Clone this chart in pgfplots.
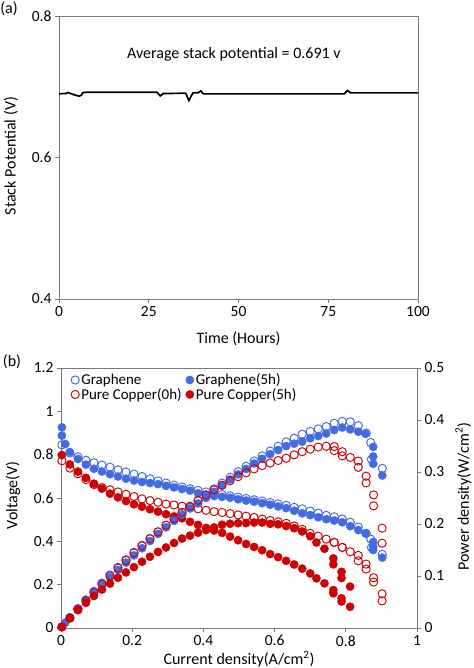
\documentclass[border=0pt]{standalone}
\usepackage{fontspec}
\setmainfont{Carlito}
\usepackage{pgfplots}
\usepackage{pgfplotstable}
\pgfplotsset{compat=1.18}
\definecolor{myblue}{RGB}{66,106,226}
\definecolor{myred}{RGB}{206,0,0}
\definecolor{axgray}{RGB}{120,120,120}

\pgfplotstableread{
x V P
0.0025 0.845 0.0021
0.025 0.808 0.0202
0.0475 0.790 0.0375
0.07 0.774 0.0542
0.0925 0.763 0.0706
0.115 0.752 0.0865
0.1375 0.742 0.1020
0.16 0.730 0.1168
0.1825 0.720 0.1314
0.205 0.710 0.1456
0.2275 0.699 0.1590
0.25 0.689 0.1723
0.2725 0.679 0.1850
0.295 0.669 0.1974
0.3175 0.659 0.2092
0.34 0.651 0.2213
0.3625 0.643 0.2331
0.385 0.635 0.2445
0.4075 0.628 0.2559
0.43 0.622 0.2675
0.4525 0.616 0.2787
0.475 0.610 0.2898
0.4975 0.604 0.3005
0.52 0.598 0.3110
0.5425 0.592 0.3212
0.565 0.586 0.3311
0.5875 0.579 0.3402
0.61 0.573 0.3495
0.6325 0.566 0.3580
0.655 0.557 0.3648
0.6775 0.550 0.3726
0.70 0.540 0.3780
0.7225 0.530 0.3829
0.745 0.520 0.3874
0.7675 0.513 0.3937
0.79 0.503 0.3974
0.8125 0.488 0.3965
0.835 0.466 0.3891
0.8575 0.437 0.3747
0.87 0.410 0.3567
0.872 0.372 0.3244
0.9025 0.340 0.3069
}\gzero

\pgfplotstableread{
x V P
0.0025 0.926 0.0023
0.0025 0.888 0.0022
0.012 0.849 0.0102
0.025 0.812 0.0203
0.0475 0.780 0.0371
0.07 0.754 0.0528
0.0925 0.735 0.0680
0.115 0.722 0.0830
0.1375 0.710 0.0976
0.16 0.699 0.1118
0.1825 0.689 0.1257
0.205 0.681 0.1396
0.2275 0.674 0.1533
0.25 0.669 0.1673
0.2725 0.664 0.1809
0.295 0.656 0.1935
0.3175 0.649 0.2061
0.34 0.641 0.2179
0.3625 0.634 0.2298
0.385 0.622 0.2395
0.4075 0.614 0.2502
0.43 0.609 0.2619
0.4525 0.605 0.2738
0.475 0.601 0.2855
0.4975 0.594 0.2955
0.52 0.588 0.3058
0.5425 0.583 0.3163
0.565 0.576 0.3254
0.5875 0.569 0.3343
0.61 0.561 0.3422
0.6325 0.553 0.3498
0.655 0.541 0.3544
0.6775 0.529 0.3584
0.70 0.521 0.3647
0.7225 0.511 0.3692
0.745 0.502 0.3740
0.7675 0.496 0.3807
0.79 0.488 0.3855
0.8125 0.470 0.3819
0.835 0.452 0.3774
0.855 0.437 0.3736
0.877 0.397 0.3482
0.877 0.376 0.3298
0.877 0.360 0.3157
0.9025 0.325 0.2933
}\gfive

\pgfplotstableread{
x V P
0.0025 0.772 0.0020
0.025 0.738 0.0190
0.0475 0.712 0.0356
0.07 0.685 0.0522
0.0925 0.662 0.0685
0.115 0.648 0.0845
0.1375 0.638 0.1001
0.16 0.628 0.1152
0.1825 0.617 0.1299
0.205 0.607 0.1441
0.2275 0.596 0.1581
0.25 0.588 0.1715
0.2725 0.580 0.1848
0.295 0.572 0.1977
0.3175 0.568 0.2102
0.34 0.562 0.2224
0.3625 0.557 0.2342
0.385 0.550 0.2456
0.4075 0.543 0.2559
0.43 0.537 0.2657
0.4525 0.533 0.2747
0.475 0.528 0.2831
0.4975 0.522 0.2910
0.52 0.516 0.2985
0.5425 0.510 0.3060
0.565 0.503 0.3124
0.5875 0.496 0.3172
0.61 0.490 0.3221
0.6325 0.483 0.3264
0.655 0.471 0.3330
0.6775 0.455 0.3390
0.70 0.437 0.3440
0.7225 0.424 0.3480
0.745 0.410 0.3495
0.7675 0.395 0.3490
0.7675 0.395 0.3410
0.79 0.372 0.3390
0.79 0.372 0.3310
0.8125 0.352 0.3280
0.835 0.335 0.3210
0.835 0.310 0.3090
0.857 0.295 0.2920
0.857 0.272 0.2790
0.878 0.232 0.2560
0.878 0.212 0.2350
0.902 0.158 0.1920
0.902 0.125 0.1630
}\rzero

\pgfplotstableread{
x V P
0.0025 0.798 0.0020
0.025 0.755 0.0189
0.0475 0.722 0.0343
0.07 0.693 0.0485
0.0925 0.666 0.0616
0.115 0.643 0.0739
0.1375 0.620 0.0853
0.16 0.603 0.0965
0.1825 0.586 0.1069
0.205 0.571 0.1171
0.2275 0.560 0.1274
0.25 0.548 0.1370
0.2725 0.537 0.1463
0.295 0.525 0.1549
0.3175 0.515 0.1635
0.34 0.506 0.1720
0.3625 0.490 0.1776
0.385 0.476 0.1833
0.4075 0.462 0.1883
0.43 0.450 0.1935
0.4525 0.439 0.1986
0.475 0.422 0.2005
0.4975 0.405 0.2015
0.52 0.388 0.2018
0.5425 0.374 0.2029
0.565 0.359 0.2028
0.5875 0.341 0.2003
0.61 0.327 0.1995
0.6325 0.310 0.1961
0.655 0.293 0.1919
0.6775 0.274 0.1856
0.70 0.252 0.1764
0.7175 0.229 0.1643
0.74 0.206 0.1524
0.765 0.175 0.1339
0.765 0.160 0.1224
0.788 0.137 0.1080
0.788 0.122 0.0961
0.812 0.098 0.0796
}\rfive

\pgfplotstableread{
t v
0 0.6900
2.0 0.6905
2.5 0.6918
4.0 0.6890
5.6 0.6866
6.2 0.6880
6.7 0.6918
8 0.6922
27.3 0.6922
28.2 0.6870
29.0 0.6904
35.3 0.6908
36.2 0.6805
37.3 0.6913
38.8 0.6915
39.5 0.6941
40.2 0.6899
79.5 0.6899
80.3 0.6946
81.3 0.6913
100 0.6913
}\stack

\pgfplotsset{
  every axis/.append style={
    scale only axis,
    axis line style={axgray, line width=0.9bp},
    tick style={axgray, line width=0.8bp},
    tick align=outside,
    major tick length=4bp,
    /pgf/number format/assume math mode=true,
    tick label style={font=\fontsize{15.5bp}{18bp}\selectfont},
    label style={font=\fontsize{16bp}{19bp}\selectfont},
  },
  opnb/.style={only marks, mark=o, mark size=4.1bp, mark options={draw=myblue, line width=0.95bp}},
  filb/.style={only marks, mark=*, mark size=4.1bp, mark options={draw=myblue, fill=myblue}},
  opnr/.style={only marks, mark=o, mark size=4.1bp, mark options={draw=myred, line width=0.95bp}},
  filr/.style={only marks, mark=*, mark size=4.1bp, mark options={draw=myred, fill=myred}},
}

\begin{document}
\begin{tikzpicture}[x=1bp,y=1bp]
\path[use as bounding box] (0,0) rectangle (474,668);

% ---------- (a) ----------
\begin{axis}[
  at={(59bp,369bp)}, anchor=south west,
  width=359bp, height=283bp,
  xmin=0, xmax=100, ymin=0.4, ymax=0.8,
  xtick={0,25,50,75,100}, ytick={0.4,0.6,0.8},
  yticklabel style={/pgf/number format/fixed,/pgf/number format/precision=1,/pgf/number format/fixed zerofill},
  xtick pos=bottom, ytick pos=left,
  xlabel={Time (Hours)}, ylabel={Stack Potential (V)},
  xlabel style={at={(axis description cs:0.5,-0.14)}, anchor=center},
  ylabel style={at={(axis description cs:-0.134,0.505)}, anchor=center},
]
\addplot[black, line width=1.7bp] table[x=t, y=v] {\stack};
\node[font=\fontsize{16bp}{19bp}\selectfont] at (axis cs:48.7,0.746) {Average stack potential = 0.691 v};
\end{axis}
\node[font=\fontsize{16bp}{19bp}\selectfont] at (9,659) {(a)};

% ---------- (b) ----------
\begin{axis}[
  at={(61bp,40bp)}, anchor=south west,
  width=356bp, height=260bp,
  xmin=0, xmax=1, ymin=0, ymax=1.2,
  xtick={0,0.2,0.4,0.6,0.8,1}, ytick={0,0.2,0.4,0.6,0.8,1,1.2},
  xtick pos=bottom, ytick pos=left,
  xlabel={Current density(A/cm\textsuperscript{2})}, ylabel={Voltage(V)},
  xlabel style={at={(axis description cs:0.5,-0.12)}, anchor=center},
  ylabel style={at={(axis description cs:-0.135,0.51)}, anchor=center},
  legend columns=2,
  legend cell align=left,
  legend style={draw=none, fill=none, at={(0.025,0.99)}, anchor=north west,
    font=\fontsize{15bp}{17bp}\selectfont,
    /tikz/every even column/.append style={column sep=2bp},
    row sep=-2bp, inner sep=1bp},
]
\addplot[opnb] table[x=x, y=V] {\gzero};
\addlegendentry{Graphene}
\addplot[filb] table[x=x, y=V] {\gfive};
\addlegendentry{Graphene(5h)}
\addplot[opnr] table[x=x, y=V] {\rzero};
\addlegendentry{Pure Copper(0h)}
\addplot[filr] table[x=x, y=V] {\rfive};
\addlegendentry{Pure Copper(5h)}
\end{axis}

\begin{axis}[
  at={(61bp,40bp)}, anchor=south west,
  width=356bp, height=260bp,
  xmin=0, xmax=1, ymin=0, ymax=0.5,
  axis x line=none, axis y line*=right,
  ytick={0,0.1,0.2,0.3,0.4,0.5},
  ylabel={Power density(W/cm\textsuperscript{2})},
  ylabel style={at={(axis description cs:1.13,0.505)}, anchor=center},
]
\addplot[opnb] table[x=x, y=P] {\gzero};
\addplot[filb] table[x=x, y=P] {\gfive};
\addplot[opnr] table[x=x, y=P] {\rzero};
\addplot[filr] table[x=x, y=P] {\rfive};
\end{axis}
\node[font=\fontsize{16bp}{19bp}\selectfont] at (12,306) {(b)};
\end{tikzpicture}
\end{document}
